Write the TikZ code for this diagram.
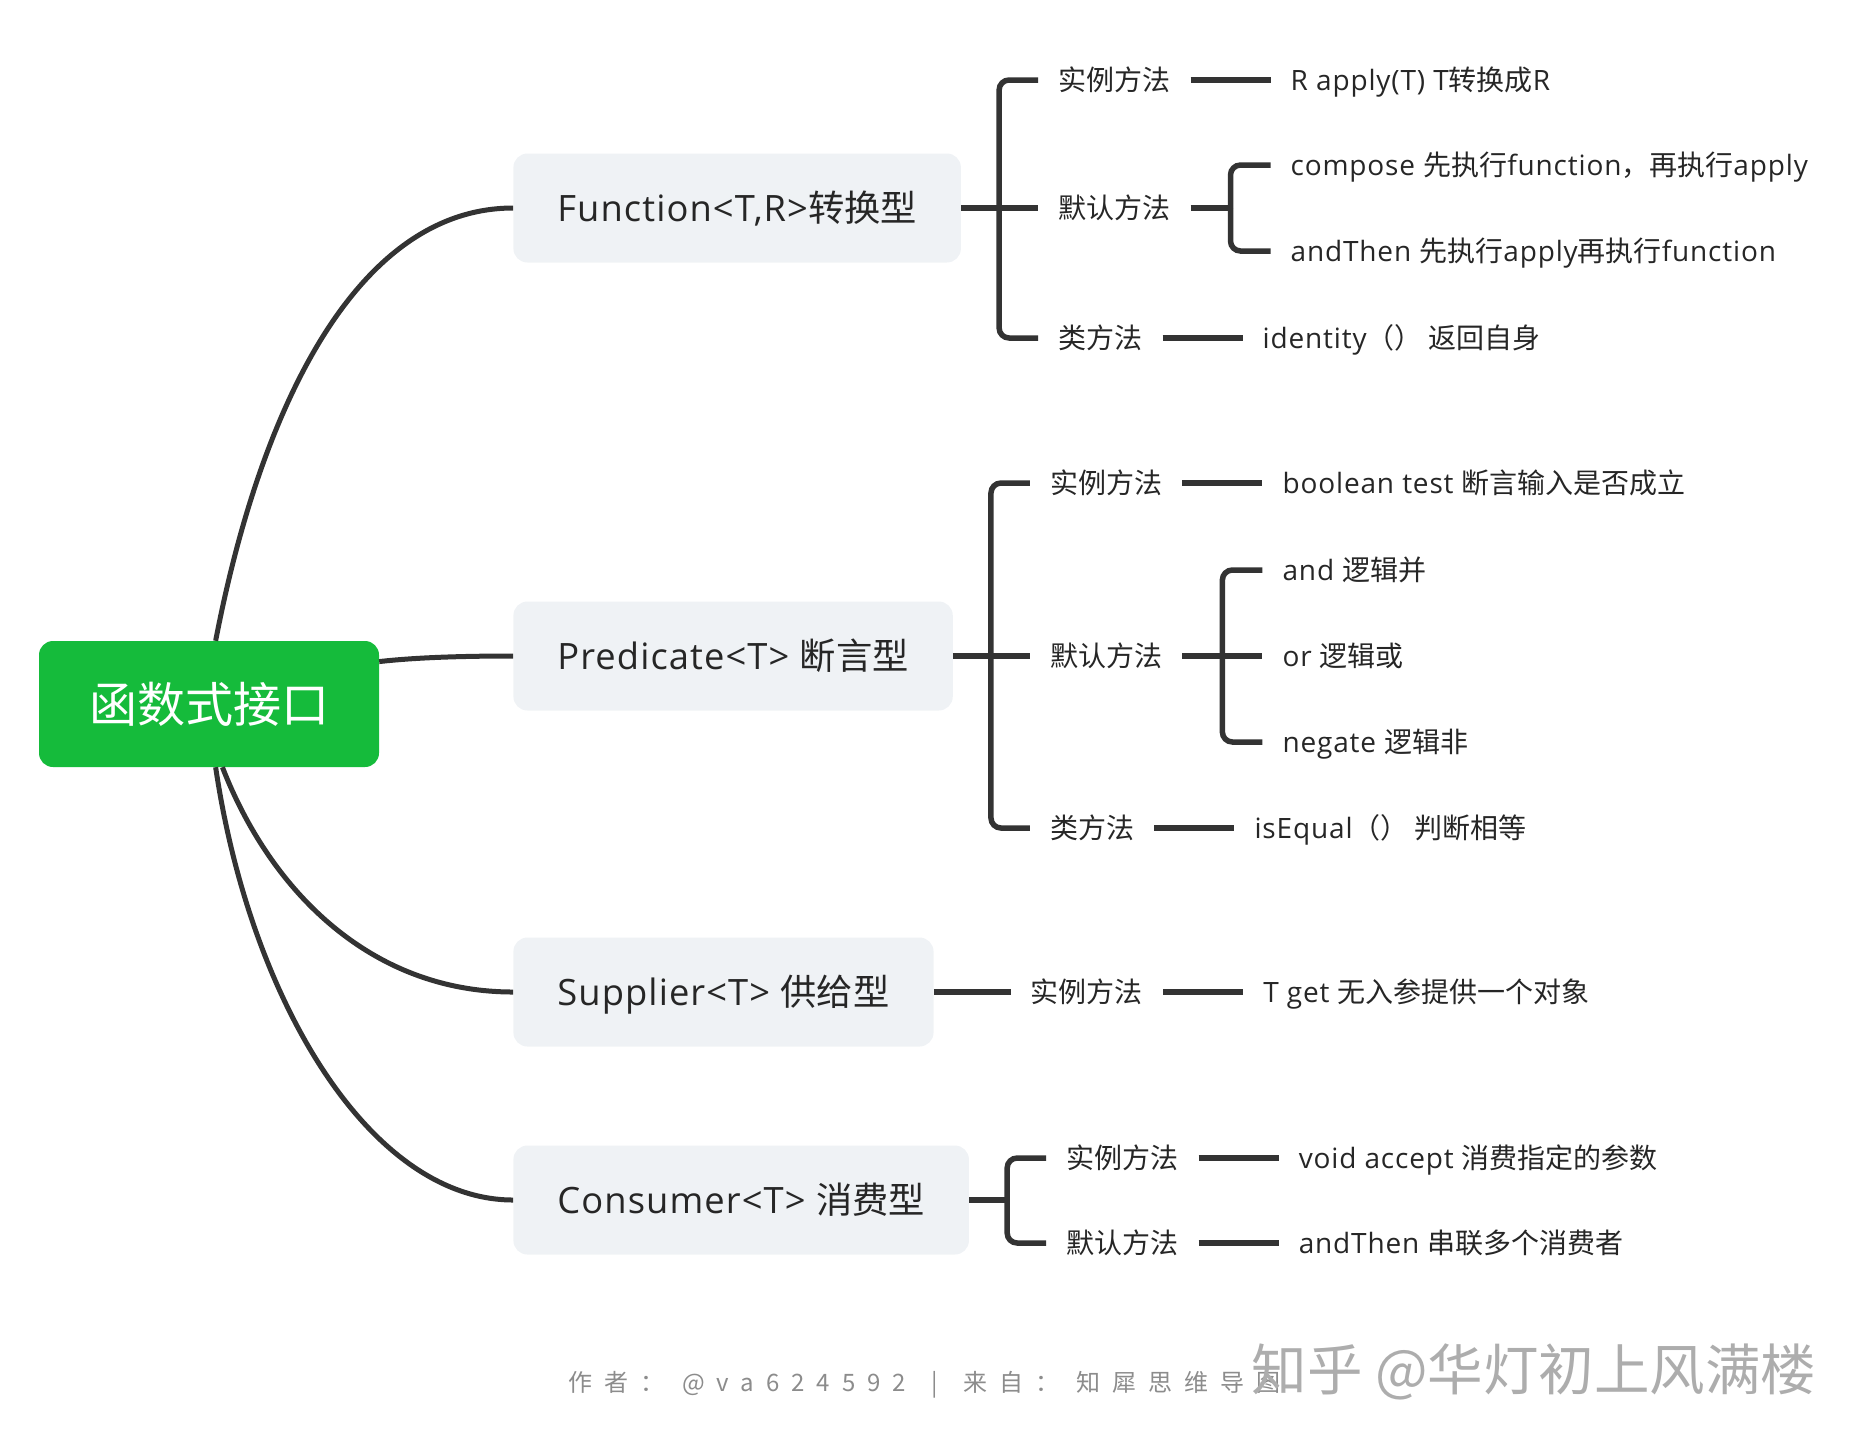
\documentclass[tikz,border=0pt]{standalone}
\usepackage{fontspec}
\setmainfont[Scale=1.0, LetterSpace=3]{Open Sans}
\newfontfamily\cjk{Noto Sans CJK SC}
\newfontfamily\creditfont[LetterSpace=50]{Noto Sans CJK SC}
\newcommand{\zh}[1]{{\cjk #1}}
\usetikzlibrary{positioning}
\definecolor{rootgreen}{HTML}{15BB3B}
\definecolor{boxgrey}{HTML}{EFF2F5}
\definecolor{linegrey}{HTML}{333333}
\tikzstyle{centre} = [rectangle, rounded corners=14pt, minimum width=340pt, minimum height=126pt, text centered, fill=rootgreen, text=white, font=\fontsize{48}{56}\selectfont]
\tikzstyle{branch} = [rectangle, rounded corners=14pt, minimum height=109pt, inner xsep=44pt, text height=33pt, text depth=6pt, fill=boxgrey, text=black!85, font=\fontsize{36.3}{44}\selectfont]
\tikzstyle{method} = [inner xsep=20pt, inner ysep=0pt, text height=27pt, text depth=6pt, text=black!85, font=\fontsize{28}{34}\selectfont]
\tikzstyle{link} = [line width=5.5pt, draw=linegrey]
\tikzstyle{bracket} = [link, rounded corners=10pt]
\tikzstyle{curve} = [line width=5pt, draw=linegrey]
\tikzstyle{credit} = [text=black!45, font=\fontsize{24}{30}\selectfont]
\tikzstyle{watermark} = [text=black!32, font=\fontsize{55.5}{64}\selectfont]

\begin{document}
\begin{tikzpicture}[x=1pt, y=1pt]
	\useasboundingbox (0,0) rectangle (1862,-1444);
	\node (root) [centre] at (209,-704) {\zh{函数式接口}};

	\node (func) [branch, right = 134pt of root, yshift = 496pt] {Function<T,R>\zh{转换型}};
	\node (pred) [branch, right = 134pt of root, yshift = 48pt] {Predicate<T> \zh{断言型}};
	\node (supp) [branch, right = 134pt of root, yshift = -288pt] {Supplier<T> \zh{供给型}};
	\node (cons) [branch, right = 134pt of root, yshift = -496pt] {Consumer<T> \zh{消费型}};

	\node (funcinst) [method, right = 77pt of func, yshift = 128pt] {\zh{实例方法}};
	\node (funcdef) [method, right = 77pt of func] {\zh{默认方法}};
	\node (funccls) [method, right = 77pt of func, yshift = -130pt] {\zh{类方法}};
	\node (apply) [method, right = 80pt of funcinst] {R apply(T) T\zh{转换成}R};
	\node (compose) [method, right = 80pt of funcdef, yshift = 43pt] {compose \zh{先执行}function\zh{，再执行}apply};
	\node (andthen) [method, right = 80pt of funcdef, yshift = -43pt] {andThen \zh{先执行}apply\zh{再执行}function};
	\node (identity) [method, right = 80pt of funccls] {identity\zh{（） 返回自身}};

	\node (predinst) [method, right = 77pt of pred, yshift = 173pt] {\zh{实例方法}};
	\node (preddef) [method, right = 77pt of pred] {\zh{默认方法}};
	\node (predcls) [method, right = 77pt of pred, yshift = -172pt] {\zh{类方法}};
	\node (test) [method, right = 80pt of predinst] {boolean test \zh{断言输入是否成立}};
	\node (and) [method, right = 80pt of preddef, yshift = 86pt] {and \zh{逻辑并}};
	\node (or) [method, right = 80pt of preddef] {or \zh{逻辑或}};
	\node (negate) [method, right = 80pt of preddef, yshift = -86pt] {negate \zh{逻辑非}};
	\node (isequal) [method, right = 80pt of predcls] {isEqual\zh{（） 判断相等}};

	\node (suppinst) [method, right = 77pt of supp] {\zh{实例方法}};
	\node (get) [method, right = 80pt of suppinst] {T get \zh{无入参提供一个对象}};

	\node (consinst) [method, right = 77pt of cons, yshift = 42pt] {\zh{实例方法}};
	\node (consdef) [method, right = 77pt of cons, yshift = -43pt] {\zh{默认方法}};
	\node (accept) [method, right = 80pt of consinst] {void accept \zh{消费指定的参数}};
	\node (chain) [method, right = 80pt of consdef] {andThen \zh{串联多个消费者}};

	\coordinate [right = 38pt of func] (funcjoin);
	\coordinate [right = 40pt of funcdef] (defjoin);
	\coordinate [right = 38pt of pred] (predjoin);
	\coordinate [right = 40pt of preddef] (logicjoin);
	\coordinate [right = 38pt of cons] (consjoin);

	\draw [curve] (root.84) .. controls (262,-400) and (360,-208) .. (func.west);
	\draw [curve] (root.14) .. controls (420,-657) and (470,-656) .. (pred.west);
	\draw [curve] (root.-78) .. controls (270,-890) and (370,-992) .. (supp.west);
	\draw [curve] (root.-84) .. controls (250,-1000) and (370,-1200) .. (cons.west);

	\draw [link] (func) -- (funcdef);
	\draw [bracket] (funcjoin) |- (funcinst);
	\draw [bracket] (funcjoin) |- (funccls);
	\draw [link] (funcinst) -- (apply);
	\draw [link] (funcdef) -- (defjoin);
	\draw [bracket] (defjoin) |- (compose);
	\draw [bracket] (defjoin) |- (andthen);
	\draw [link] (funccls) -- (identity);

	\draw [link] (pred) -- (preddef);
	\draw [bracket] (predjoin) |- (predinst);
	\draw [bracket] (predjoin) |- (predcls);
	\draw [link] (predinst) -- (test);
	\draw [link] (preddef) -- (or);
	\draw [bracket] (logicjoin) |- (and);
	\draw [bracket] (logicjoin) |- (negate);
	\draw [link] (predcls) -- (isequal);

	\draw [link] (supp) -- (suppinst);
	\draw [link] (suppinst) -- (get);

	\draw [link] (cons) -- (consjoin);
	\draw [bracket] (consjoin) |- (consinst);
	\draw [bracket] (consjoin) |- (consdef);
	\draw [link] (consinst) -- (accept);
	\draw [link] (consdef) -- (chain);

	\node (author) [credit, below = 130pt of cons.south west, anchor = west, xshift = 52pt] {\creditfont 作者： @va624592 \hspace{8pt}|\hspace{8pt} 来自： 知犀思维导图};
	\node (brand) [watermark, right = -36pt of author, yshift = 13pt] {\zh{知乎 @华灯初上风满楼}};
\end{tikzpicture}
\end{document}
